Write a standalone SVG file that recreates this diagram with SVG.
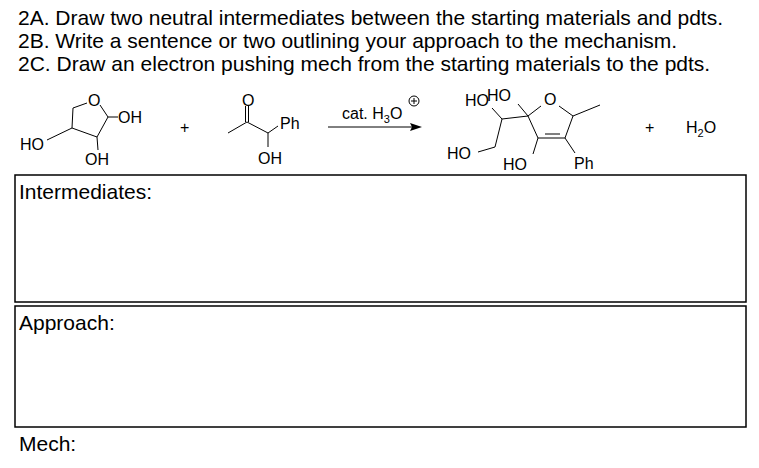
<svg xmlns="http://www.w3.org/2000/svg" width="759" height="468" viewBox="0 0 759 468">
<style>
text{font-family:"Liberation Sans",Arial,sans-serif;fill:#000}
.h{font-size:21px}
.c{font-size:16px}
.b{fill:none;stroke:#000;stroke-width:1}
.box{fill:#fff;stroke:#000;stroke-width:1.5}
</style>
<rect width="759" height="468" fill="#fff"/>
<text class="h" x="18" y="25">2A. Draw two neutral intermediates between the starting materials and pdts.</text>
<text class="h" x="18" y="48">2B. Write a sentence or two outlining your approach to the mechanism.</text>
<text class="h" x="18" y="71">2C. Draw an electron pushing mech from the starting materials to the pdts.</text>
<g id="sm1">
<path class="b" d="M87,103 L73,108 L72,128 L97,137 L108,117 L100,105 M108,117 L118,117 M72,128 L47,140 M97,137 L98,150"/>
<text class="c" x="88" y="106">O</text>
<text class="c" x="118" y="123">OH</text>
<text class="c" x="20" y="150">HO</text>
<text class="c" x="85" y="165">OH</text>
</g>
<text class="c" x="180" y="133">+</text>
<g id="sm2">
<path class="b" d="M228,133 L247,122 L268,133 L278,126 M268,133 L268,147 M245.5,122 L245.5,106 M248.5,122 L248.5,106"/>
<text class="c" x="242" y="106">O</text>
<text class="c" x="280" y="129">Ph</text>
<text class="c" x="258" y="164">OH</text>
</g>
<g id="connectors">
<path class="b" d="M328,127 L412,127"/>
<path d="M422,127 L410,123 L412,127 L410,131 Z"/>
</g>
<g id="reagent">
<text class="c" x="342" y="119">cat. H<tspan font-size="11" dy="4">3</tspan><tspan dy="-4">O</tspan></text>
<circle cx="414" cy="101" r="5" class="b"/>
<path class="b" d="M411,101 H417 M414,98 V104"/>
</g>
<g id="product">
<path class="b" d="M528,116 L541,106 M559,106 L573,116 L600,105 M573,116 L565,138 L538,138 L528,116 M545,134 L560,134 M538,138 L533,154 M565,138 L575,153 M528,116 L502,119 L492,108 M502,119 L495,147 L478,152 M528,116 L518,104"/>
<text class="c" x="544" y="105">O</text>
<text class="c" x="465" y="106">HO</text>
<text class="c" x="487" y="101">HO</text>
<text class="c" x="447" y="159">HO</text>
<text class="c" x="503" y="170">HO</text>
<text class="c" x="574" y="169">Ph</text>
</g>
<text class="c" x="645" y="133">+</text>
<text class="c" x="686" y="133">H<tspan font-size="11" dy="4">2</tspan><tspan dy="-4">O</tspan></text>
<g id="intermediates">
<rect class="box" x="15" y="175" width="731" height="127"/>
<text class="h" x="19" y="199">Intermediates:</text>
</g>
<g id="approach">
<rect class="box" x="15" y="306" width="731" height="121"/>
<text class="h" x="19" y="330">Approach:</text>
</g>
<text class="h" x="19" y="451">Mech:</text>
</svg>
